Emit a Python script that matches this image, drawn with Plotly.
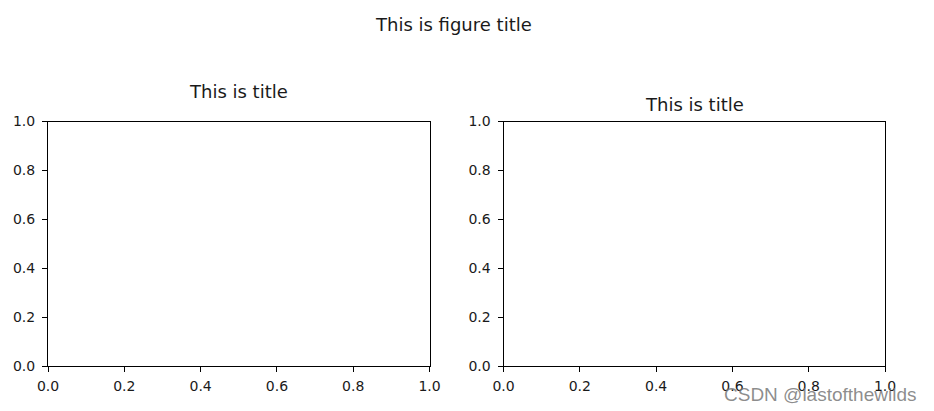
import plotly.graph_objects as go

# Data (empty axes in the reference)
x_values = []
y_values = []
tick_vals = [0.0, 0.2, 0.4, 0.6, 0.8, 1.0]
tick_text = ["0.0", "0.2", "0.4", "0.6", "0.8", "1.0"]
fig_title = "This is figure title"
sub_titles = ["This is title", "This is title"]
watermark = "CSDN @lastofthewilds"

W, H = 934, 411
OFF = 8  # page body margin offset


def px(x):
    return (x - OFF) / W


def py(y):
    return (H - (y - OFF)) / H


fig = go.Figure()
fig.add_trace(go.Scatter(x=x_values, y=y_values, xaxis="x", yaxis="y", showlegend=False))
fig.add_trace(go.Scatter(x=x_values, y=y_values, xaxis="x2", yaxis="y2", showlegend=False))

ydom = [py(366), py(121.5)]

axis_common = dict(
    range=[0, 1],
    tickvals=tick_vals,
    ticktext=tick_text,
    showline=True,
    mirror=True,
    linecolor="black",
    linewidth=1,
    ticks="outside",
    ticklen=5,
    tickwidth=1,
    tickcolor="black",
    showgrid=False,
    zeroline=False,
    automargin=False,
    tickfont=dict(family="DejaVu Sans", size=14, color="#1a1a1a"),
    fixedrange=True,
)

fig.update_layout(
    width=W,
    height=H,
    margin=dict(l=0, r=0, t=0, b=0, autoexpand=False),
    paper_bgcolor="white",
    plot_bgcolor="white",
    xaxis=dict(domain=[px(48), px(429.5)], anchor="y", ticklabelstandoff=2, **axis_common),
    yaxis=dict(domain=ydom, anchor="x", ticklabelstandoff=4, **axis_common),
    xaxis2=dict(domain=[px(503.5), px(885)], anchor="y2", ticklabelstandoff=2, **axis_common),
    yaxis2=dict(domain=ydom, anchor="x2", ticklabelstandoff=4, **axis_common),
    annotations=[
        dict(text=fig_title, x=px(453.5), y=py(25), xref="paper", yref="paper",
             xanchor="center", yanchor="middle", showarrow=False,
             font=dict(family="DejaVu Sans", size=18, color="#1a1a1a")),
        dict(text=sub_titles[0], x=px(238.5), y=py(91.5), xref="paper", yref="paper",
             xanchor="center", yanchor="middle", showarrow=False,
             font=dict(family="DejaVu Sans", size=18, color="#1a1a1a")),
        dict(text=sub_titles[1], x=px(694), y=py(104.5), xref="paper", yref="paper",
             xanchor="center", yanchor="middle", showarrow=False,
             font=dict(family="DejaVu Sans", size=18, color="#1a1a1a")),
        dict(text=watermark, x=px(918), y=py(394), xref="paper", yref="paper",
             xanchor="right", yanchor="middle", showarrow=False,
             font=dict(family="Liberation Sans", size=19, color="rgba(120,120,120,0.85)")),
    ],
)

fig.write_html("out.html")
